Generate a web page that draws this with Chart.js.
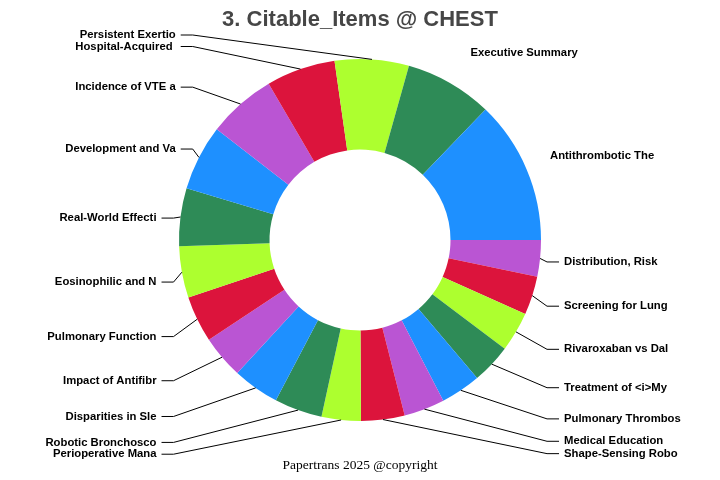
<!DOCTYPE html>
<html>
<head>
<meta charset="utf-8">
<title>Citable Items @ CHEST</title>
<script src="https://cdn.jsdelivr.net/npm/chart.js@4.4.0/dist/chart.umd.min.js"></script>
<style>
  html, body { margin: 0; padding: 0; background: #fff; }
  #wrap { width: 720px; height: 480px; position: relative; }
</style>
</head>
<body>
<div id="wrap"><canvas id="pieChart"></canvas></div>
<script>
const titleText = "3. Citable_Items @ CHEST";
const footerText = "Papertrans 2025 @copyright";

// slices in source order (counter-clockwise from 3 o'clock)
const categories = [
  "Antithrombotic The", "Executive Summary", "Persistent Exertio", "Hospital-Acquired ",
  "Incidence of VTE a", "Development and Va", "Real-World Effecti", "Eosinophilic and N",
  "Pulmonary Function", "Impact of Antifibr", "Disparities in Sle", "Robotic Bronchosco",
  "Perioperative Mana", "Shape-Sensing Robo", "Medical Education", "Pulmonary Thrombos",
  "Treatment of <i>My", "Rivaroxaban vs Dal", "Screening for Lung", "Distribution, Risk"
];
const itemShares = [
  46.1, 28.2, 23.8, 22.2,
  22.0, 21.1, 18.6, 16.5,
  14.9, 13.9, 15.0, 15.4,
  12.6, 14.0, 13.1, 12.9,
  12.8, 12.8, 12.4, 11.7
];
const palette = ["#1E90FF", "#2E8B57", "#ADFF2F", "#DC143C", "#BA55D3"];

// Chart.js goes clockwise, so feed the slices in reverse
const drawOrder = categories.map((_, i) => categories.length - 1 - i);

const LABEL_FONT = "bold 11.3px 'Liberation Sans', Arial, sans-serif";
const LINE_LEN = 7;     // radial part of the leader
const LINE_LEN2 = 12;   // horizontal part
const TEXT_GAP = 5;
const LABEL_SCALE = 1.19;
const MIN_GAP = 11.5;

// push a sorted column of labels down from the top edge by squeezing the gaps
function squeezeFromTop(side, top) {
  if (!side.length) {
    return;
  }
  const over = top - side[0].y;
  if (over <= 0) {
    return;
  }
  const gaps = [];
  let total = 0;
  for (let i = 0; i < side.length - 1; i++) {
    const g = Math.max(side[i + 1].y - side[i].y - MIN_GAP, 0);
    gaps.push(g);
    total += g;
  }
  if (!total) {
    return;
  }
  const pct = Math.min(over / total, 1);
  for (let i = 0; i < gaps.length; i++) {
    for (let k = 0; k <= i; k++) {
      side[k].y += gaps[i] * pct;
    }
  }
}

const outsideLabels = {
  id: "outsideLabels",
  afterDatasetsDraw(chart) {
    const ctx = chart.ctx;
    const meta = chart.getDatasetMeta(0);
    const names = chart.data.labels;
    const top = 35;
    const bottom = chart.height - 18;

    const items = meta.data.map((arc, i) => {
      const p = arc.getProps(["x", "y", "startAngle", "endAngle", "outerRadius"], true);
      const mid = (p.startAngle + p.endAngle) / 2;
      const ux = Math.cos(mid);
      const uy = Math.sin(mid);
      const dir = ux > 0.1 ? 1 : -1;
      const upper = uy < -0.3;
      return {
        text: names[i],
        ex: p.x + p.outerRadius * ux,
        ey: p.y + p.outerRadius * uy,
        dir: dir,
        group: dir + (upper ? "u" : "l"),
        showLine: !(dir > 0 && upper),
        y: p.y + LABEL_SCALE * p.outerRadius * uy,
        naturalX: p.x + dir * ((p.outerRadius + LINE_LEN) * Math.abs(ux) + LINE_LEN2)
      };
    });

    // align the line ends inside each group
    const groupX = {};
    items.forEach(it => {
      const cur = groupX[it.group];
      if (cur === undefined) {
        groupX[it.group] = it.naturalX;
      } else {
        groupX[it.group] = it.dir > 0 ? Math.max(cur, it.naturalX) : Math.min(cur, it.naturalX);
      }
    });
    items.forEach(it => {
      it.p3x = it.showLine ? groupX[it.group] : it.naturalX;
    });

    // keep labels apart vertically on each side
    [1, -1].forEach(dir => {
      const side = items.filter(it => it.dir === dir).sort((a, b) => a.y - b.y);
      squeezeFromTop(side, top);
      let prev = -Infinity;
      side.forEach(it => {
        it.y = Math.max(it.y, top, prev + MIN_GAP);
        prev = it.y;
      });
      let next = Infinity;
      for (let i = side.length - 1; i >= 0; i--) {
        side[i].y = Math.min(side[i].y, bottom, next - MIN_GAP);
        next = side[i].y;
      }
    });

    ctx.save();
    ctx.strokeStyle = "#000";
    ctx.lineWidth = 1;
    items.forEach(it => {
      if (!it.showLine) {
        return;
      }
      ctx.beginPath();
      ctx.moveTo(it.ex, it.ey);
      ctx.lineTo(it.p3x - it.dir * LINE_LEN2, it.y);
      ctx.lineTo(it.p3x, it.y);
      ctx.stroke();
    });

    ctx.font = LABEL_FONT;
    ctx.fillStyle = "#000";
    ctx.textBaseline = "middle";
    items.forEach(it => {
      ctx.textAlign = it.dir > 0 ? "left" : "right";
      ctx.fillText(it.text, it.p3x + it.dir * TEXT_GAP, it.y);
    });
    ctx.restore();
  },
  afterDraw(chart) {
    const ctx = chart.ctx;
    ctx.save();
    ctx.textAlign = "center";
    ctx.textBaseline = "alphabetic";
    ctx.fillStyle = "#464646";
    ctx.font = "bold 22px 'Liberation Sans', Arial, sans-serif";
    ctx.fillText(titleText, chart.width / 2, 26);
    ctx.fillStyle = "#000";
    ctx.font = "13.5px 'Liberation Serif', 'Times New Roman', serif";
    ctx.fillText(footerText, chart.width / 2, 469);
    ctx.restore();
  }
};

const pieChart = new Chart(document.getElementById("pieChart"), {
  type: "doughnut",
  data: {
    labels: drawOrder.map(i => categories[i]),
    datasets: [{
      data: drawOrder.map(i => itemShares[i]),
      backgroundColor: drawOrder.map(i => palette[i % palette.length]),
      borderWidth: 0,
      hoverOffset: 0
    }]
  },
  options: {
    responsive: true,
    maintainAspectRatio: false,
    animation: false,
    rotation: 90,
    cutout: "50%",
    layout: {
      padding: { top: 59, bottom: 59, left: 0, right: 0 }
    },
    plugins: {
      legend: { display: false },
      title: { display: false },
      tooltip: { enabled: false }
    }
  },
  plugins: [outsideLabels]
});
</script>
</body>
</html>
